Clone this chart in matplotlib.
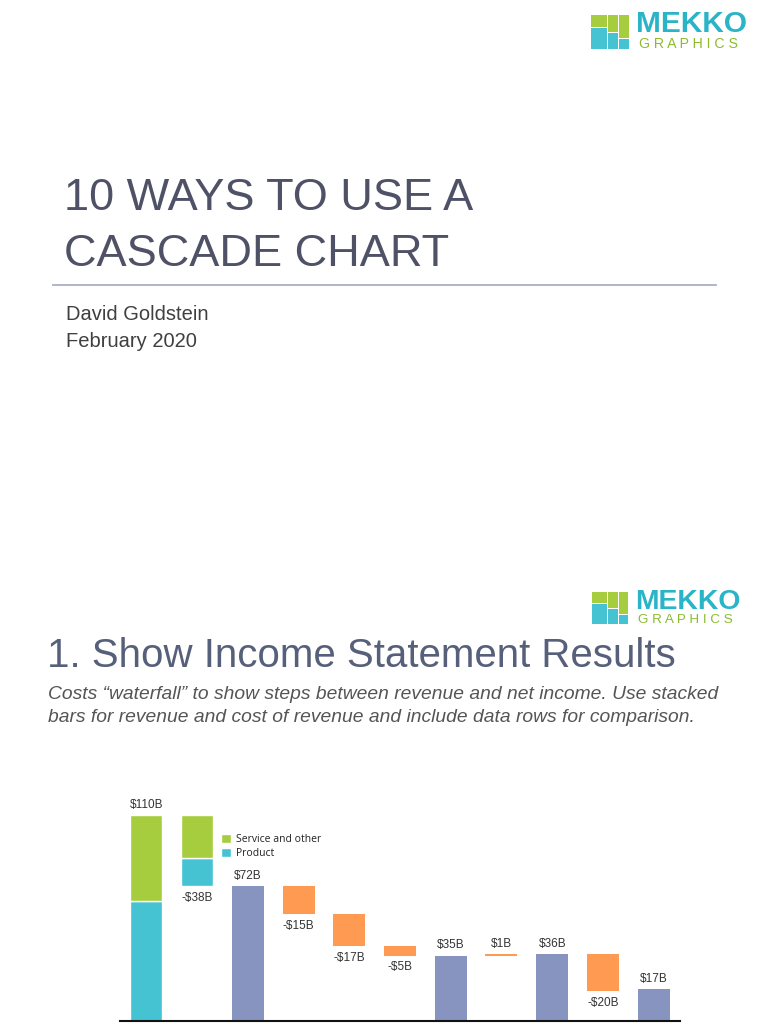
import matplotlib
matplotlib.use("Agg")
import matplotlib.pyplot as plt
from matplotlib.patches import Rectangle
from matplotlib.lines import Line2D

# --- data -----------------------------------------------------------------
segments = ["Service and other", "Product"]
revenue = {"Product": 64, "Service and other": 46}
cost_of_revenue = {"Product": 15, "Service and other": 23}
revenue_label = "$110B"
cost_label = "-$38B"

step_kinds = ["total", "delta", "delta", "delta", "total", "delta", "total", "delta", "total"]
step_values = [72, -15, -17, -5, 35, 1, 36, -20, 17]
step_labels = ["$72B", "-$15B", "-$17B", "-$5B", "$35B", "$1B", "$36B", "-$20B", "$17B"]

# --- colours --------------------------------------------------------------
GREEN = "#a6cd3e"
TEAL = "#45c3d3"
TOTAL = "#8794c0"
ORANGE = "#ff9a52"
seg_colors = {"Service and other": GREEN, "Product": TEAL}

W, H = 768, 1024
fig = plt.figure(figsize=(W / 100, H / 100), dpi=100)
fig.patch.set_facecolor("white")


def fx(x):
    return x / W


def fy(y):
    return 1 - y / H


def draw_logo(x0, y0, s=1.0):
    cells = [
        (0, 0, 16, 12, GREEN), (17, 0, 10, 17, GREEN), (28, 0, 10, 23, GREEN),
        (0, 13, 16, 21, TEAL), (17, 18, 10, 16, TEAL), (28, 24, 10, 10, TEAL),
    ]
    for cx, cy, cw, ch, col in cells:
        fig.patches.append(Rectangle((fx(x0 + cx * s), fy(y0 + (cy + ch) * s)),
                                     cw * s / W, ch * s / H, color=col,
                                     transform=fig.transFigure, lw=0))
    fig.text(fx(x0 + 45 * s), fy(y0 + 17.5 * s), "MEKKO", fontsize=21.5 * s,
             fontweight="bold", color="#2ab4c7", family="Liberation Sans",
             va="baseline", ha="left")
    fig.text(fx(x0 + 48 * s), fy(y0 + 32.5 * s), "G R A P H I C S", fontsize=10.2 * s,
             color="#8dbb2d", family="Liberation Sans", va="baseline", ha="left")


# --- slide 1 --------------------------------------------------------------
draw_logo(591, 15, 1.0)
title_col = "#4f5166"
fig.text(fx(64), fy(210), "10 WAYS TO USE A", fontsize=32.5, color=title_col,
         family="Liberation Sans", va="baseline")
fig.text(fx(64), fy(266), "CASCADE CHART", fontsize=32.5, color=title_col,
         family="Liberation Sans", va="baseline")
fig.add_artist(Line2D([fx(53), fx(716)], [fy(285), fy(285)], color="#a9b0c6", lw=1.3))
fig.text(fx(66), fy(320), "David Goldstein", fontsize=14.5, color="#404040",
         family="Liberation Sans", va="baseline")
fig.text(fx(66), fy(347), "February 2020", fontsize=14.5, color="#404040",
         family="Liberation Sans", va="baseline")

# --- slide 2 --------------------------------------------------------------
draw_logo(592, 592, 0.95)
fig.text(fx(47), fy(667), "1. Show Income Statement Results", fontsize=29,
         color="#57607a", family="Liberation Sans", va="baseline")
fig.text(fx(48), fy(699),
         "Costs \u201cwaterfall\u201d to show steps between revenue and net income. Use stacked",
         fontsize=13.9, style="italic", color="#555555", family="Liberation Sans",
         va="baseline")
fig.text(fx(48), fy(722),
         "bars for revenue and cost of revenue and include data rows for comparison.",
         fontsize=13.9, style="italic", color="#555555", family="Liberation Sans",
         va="baseline")

# --- cascade chart ----------------------------------------------------------
ax = fig.add_axes([fx(120), fy(1021), 560 / W, 230 / H])
ax.set_xlim(-0.52, 10.52)
ax.set_ylim(0, 123)
bw = 0.63
lab_kw = dict(fontsize=8.5, color="#333333", family="Liberation Sans", ha="center",
              textcoords="offset points")

# revenue (stacked)
handles = {}
bottom = 0
for seg in ["Product", "Service and other"]:
    handles[seg] = ax.bar(0, revenue[seg], bottom=bottom, width=bw, color=seg_colors[seg],
                          edgecolor="white", linewidth=1)
    bottom += revenue[seg]
total_rev = bottom
ax.annotate(revenue_label, (0, total_rev), xytext=(0, 3), va="bottom", **lab_kw)

# cost of revenue (stacked, hanging)
cost_total = sum(cost_of_revenue.values())
bottom = total_rev - cost_total
for seg in ["Product", "Service and other"]:
    ax.bar(1, cost_of_revenue[seg], bottom=bottom, width=bw, color=seg_colors[seg],
           edgecolor="white", linewidth=1)
    bottom += cost_of_revenue[seg]
ax.annotate(cost_label, (1, total_rev - cost_total), xytext=(0, -4), va="top", **lab_kw)

# remaining steps
running = total_rev - cost_total
for i, (kind, val, lab) in enumerate(zip(step_kinds, step_values, step_labels)):
    x = i + 2
    if kind == "total":
        ax.bar(x, val, width=bw, color=TOTAL, linewidth=0)
        running = val
        ax.annotate(lab, (x, val), xytext=(0, 3), va="bottom", **lab_kw)
    else:
        start = running
        running = running + val
        ax.bar(x, abs(val), bottom=min(start, running), width=bw, color=ORANGE, linewidth=0)
        if val < 0:
            ax.annotate(lab, (x, running), xytext=(0, -4), va="top", **lab_kw)
        else:
            ax.annotate(lab, (x, running), xytext=(0, 3), va="bottom", **lab_kw)

for side in ["top", "right", "left"]:
    ax.spines[side].set_visible(False)
ax.spines["bottom"].set_linewidth(1.5)
ax.spines["bottom"].set_color("#111111")
ax.set_xticks([])
ax.set_yticks([])
ax.patch.set_alpha(0)

leg = ax.legend([handles["Service and other"], handles["Product"]], segments,
                loc="upper left", bbox_to_anchor=(fx(214), fy(827)),
                bbox_transform=fig.transFigure, frameon=False,
                handlelength=0.9, handleheight=0.9, handletextpad=0.5,
                labelspacing=0.3, borderpad=0.2,
                prop={"family": "Open Sans", "size": 7.5})
for t in leg.get_texts():
    t.set_color("#222222")

fig.savefig("out.png", dpi=100)
